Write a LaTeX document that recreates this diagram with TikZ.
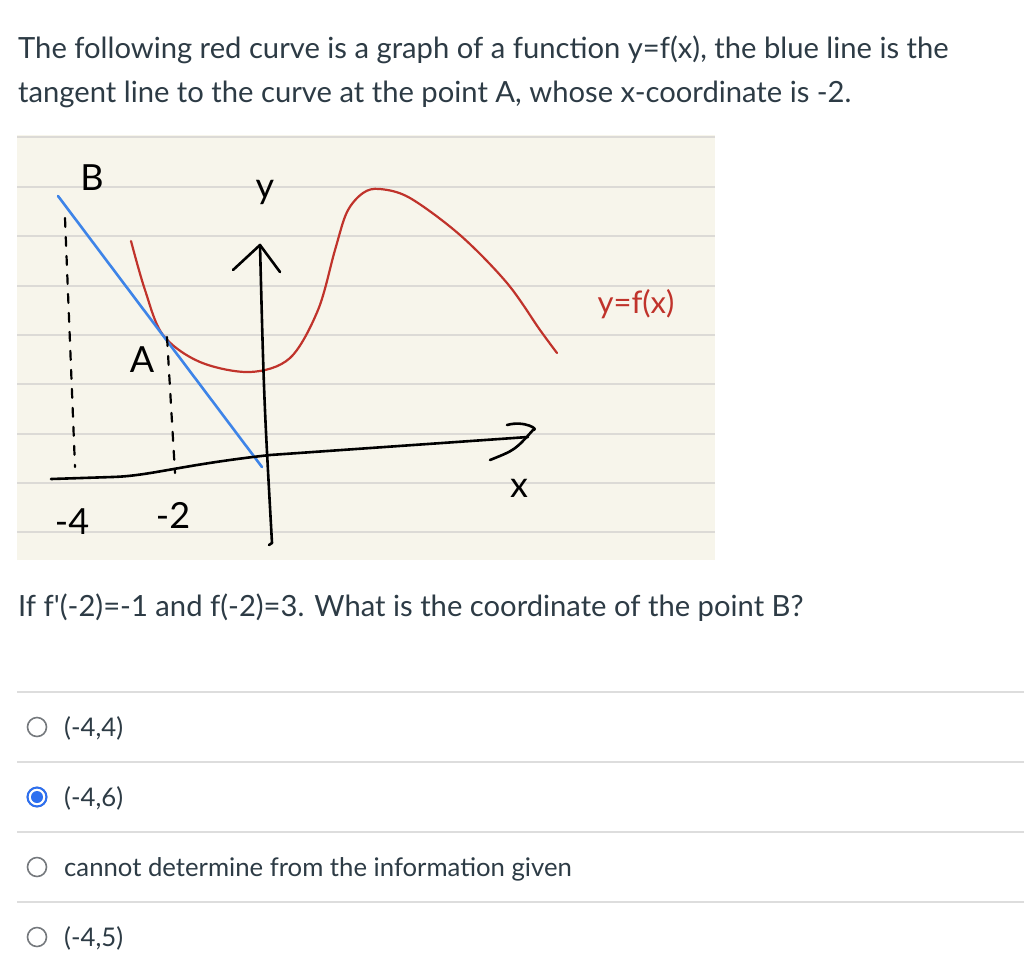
\documentclass[tikz,border=0pt]{standalone}
\usepackage{fontspec}
\setmainfont{Lato}
\usetikzlibrary{calc}
\definecolor{canvastext}{HTML}{2D3B45}
\definecolor{paper}{HTML}{F7F5EB}
\definecolor{ruling}{HTML}{DCDAD6}
\definecolor{curvered}{HTML}{C0332B}
\definecolor{tanblue}{HTML}{3E84E8}
\definecolor{radiogray}{HTML}{75797D}
\definecolor{radioblue}{HTML}{2D6FF0}
\definecolor{sepgray}{HTML}{DDDDDD}
\newcommand{\makeoption}[3]{
	\draw[sepgray, line width=1.5] (17,#2-35) -- (1024,#2-35);
	\draw[radiogray, line width=1.6] (37,#2) circle (9.5);
	\node[opttext] (#1) at (64,#2+9) {#3};
}
\tikzset{
	qtext/.style={anchor=base west, inner sep=0, text=canvastext, font=\fontsize{29.2}{44}\selectfont},
	opttext/.style={anchor=base west, inner sep=0, text=canvastext, font=\fontsize{25.7}{30}\selectfont},
	hand/.style={inner sep=0, font=\fontsize{36}{36}\selectfont},
	pen/.style={line width=2.2, line cap=round, line join=round},
}

\begin{document}
\begin{tikzpicture}[x=1pt,y=-1pt]
	\useasboundingbox (0,0) rectangle (1024,967);
	\fill[white] (0,0) rectangle (1024,967);

	\node[qtext] (q1) at (18,58) {The following red curve is a graph of a function y=f(x), the blue line is the};
	\node[qtext] (q2) at (18,102) {tangent line to the curve at the point A, whose x-coordinate is -2.};

	\fill[paper] (17,135) rectangle (715,560);
	\foreach \y in {137,187,236,286,335,384,434,483,532}
		\draw[ruling, line width=2.4] (17,\y) -- (715,\y);

	\coordinate (B) at (58,196);
	\coordinate (tanend) at (262,467);
	\coordinate (ytop) at (260,245);
	\coordinate (ybot) at (272,543);
	\coordinate (ywingl) at (233,270);
	\coordinate (ywingr) at (280,272);
	\coordinate (xleft) at (51,479);
	\coordinate (xend) at (528,437);
	\coordinate (xtip) at (533,430);
	\coordinate (xwingt) at (507,425);
	\coordinate (xwingb) at (490,460);
	\coordinate (dashBtop) at (65,218);
	\coordinate (dashBbot) at (75,467);
	\coordinate (dashAtop) at (167,337);
	\coordinate (dashAbot) at (175,473);

	\node[hand] (labB) at (92,178) {B};
	\node[hand] (laby) at (265,192) {y};
	\node[hand] (labA) at (142,360) {A};
	\node[hand] (labm4) at (72,522) {-4};
	\node[hand] (labm2) at (173,515) {-2};
	\node[hand] (labx) at (519,488) {x};
	\node[hand, text=curvered, font=\fontsize{31}{31}\selectfont] (labf) at (636,304) {y=f(x)};

	\draw[pen, curvered] plot[smooth, tension=0.55] coordinates {(131,241) (145,290) (163,335) (200,362) (250,372) (290,358) (318,310) (335,250) (347,212) (363,193) (380,189) (410,198) (460,235) (507,283) (540,330) (557,353)};
	\draw[pen, tanblue, line width=2.6] (B) -- (tanend);

	\draw[pen, black, line width=2.6] (ytop) .. controls (264,400) .. (ybot) -- ++(-3,2);
	\draw[pen, black, line width=2.6] (ywingl) -- (ytop) -- (ywingr);
	\draw[pen, black, line width=2.6] (xleft) -- (112,477) .. controls (150,476) and (180,465) .. (270,455) -- (xend);
	\draw[pen, black, line width=2.6] (xwingt) .. controls (525,420) and (540,430) .. (xtip) .. controls (515,450) .. (xwingb);
	\draw[pen, black, dash pattern=on 9pt off 10pt] (dashBtop) -- (dashBbot);
	\draw[pen, black, dash pattern=on 9pt off 10pt] (dashAtop) -- (dashAbot);

	\node[qtext] (q3) at (18,616) {If f\textquotesingle(-2)=-1 and f(-2)=3. What is the coordinate of the point B?};

	\makeoption{opt1}{727}{(-4,4)}
	\makeoption{opt2}{797}{(-4,6)}
	\makeoption{opt3}{867}{cannot determine from the information given}
	\makeoption{opt4}{937}{(-4,5)}
	\draw[radioblue, line width=2] (37,797) circle (9.5);
	\fill[radioblue] (37,797) circle (6);
\end{tikzpicture}
\end{document}
